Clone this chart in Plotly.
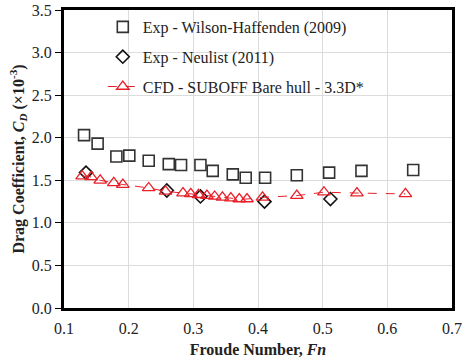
import plotly.graph_objects as go

# Exp - Wilson-Haffenden (2009)
wh_fn = [0.131, 0.152, 0.181, 0.201, 0.231, 0.262, 0.281, 0.311, 0.330, 0.361, 0.381, 0.411, 0.460, 0.510, 0.560, 0.640]
wh_cd = [2.03, 1.93, 1.78, 1.79, 1.73, 1.69, 1.68, 1.68, 1.61, 1.57, 1.53, 1.53, 1.56, 1.59, 1.61, 1.62]

# Exp - Neulist (2011)
ne_fn = [0.134, 0.259, 0.311, 0.410, 0.512]
ne_cd = [1.59, 1.38, 1.31, 1.25, 1.28]

# CFD - SUBOFF Bare hull - 3.3D*
cfd_fn = [0.128, 0.142, 0.156, 0.177, 0.191, 0.231, 0.257, 0.284, 0.296, 0.308, 0.321, 0.333, 0.345, 0.358, 0.371, 0.383, 0.407, 0.460, 0.502, 0.553, 0.628]
cfd_cd = [1.55, 1.54, 1.50, 1.47, 1.45, 1.41, 1.37, 1.35, 1.34, 1.33, 1.32, 1.31, 1.30, 1.29, 1.28, 1.28, 1.30, 1.32, 1.36, 1.35, 1.34]

x_ticks = [0.1, 0.2, 0.3, 0.4, 0.5, 0.6, 0.7]
y_ticks = [0.0, 0.5, 1.0, 1.5, 2.0, 2.5, 3.0, 3.5]

FONT = "Liberation Serif, Times New Roman, serif"
TXT = "#222222"

fig = go.Figure()
fig.add_trace(go.Scatter(
    x=wh_fn, y=wh_cd, mode="markers", name="Exp - Wilson-Haffenden (2009)", legendgroup="a",
    marker=dict(symbol="square-open", size=11, color="#333333", line=dict(width=1.6)),
))
fig.add_trace(go.Scatter(
    x=ne_fn, y=ne_cd, mode="markers", name="Exp - Neulist (2011)", legendgroup="b",
    marker=dict(symbol="diamond-open", size=10, color="#111111", line=dict(width=1.6)),
))
fig.add_trace(go.Scatter(
    x=cfd_fn, y=cfd_cd, mode="lines+markers", name="CFD - SUBOFF Bare hull - 3.3D*", legendgroup="c",
    line=dict(color="#e8202a", width=1, dash="dash"),
    marker=dict(symbol="triangle-up-open", size=11, color="#e8202a", line=dict(width=1.3)),
))

fig.add_shape(type="rect", xref="paper", yref="paper", x0=0.01, x1=0.845, y0=0.715, y1=1.0,
              fillcolor="white", line=dict(width=0), layer="between")

fig.update_layout(
    width=474, height=361,
    margin=dict(l=64, r=22, t=10, b=53, autoexpand=False),
    paper_bgcolor="white", plot_bgcolor="white",
    font=dict(family=FONT, size=16, color=TXT),
    showlegend=True,
    legend=dict(x=0.1, y=1.0, xanchor="left", yanchor="top", bgcolor="rgba(0,0,0,0)",
                font=dict(family=FONT, size=16, color=TXT), tracegroupgap=6),
    xaxis=dict(
        range=[0.1, 0.7], tickvals=x_ticks, ticktext=[f"{v:.1f}" for v in x_ticks],
        showgrid=True, gridcolor="#dcdcdc", gridwidth=1, zeroline=False,
        showline=True, linecolor="black", linewidth=3, mirror=True, automargin=False,
        ticks="", ticklabelstandoff=4, tickfont=dict(family=FONT, size=16, color=TXT),
        title=dict(text="<b>Froude Number, <i>Fn</i></b>", font=dict(family=FONT, size=16, color=TXT), standoff=8),
    ),
    yaxis=dict(
        range=[0, 3.5], tickvals=y_ticks, ticktext=[f"{v:.1f}" for v in y_ticks],
        showgrid=True, gridcolor="#dcdcdc", gridwidth=1, zeroline=False,
        showline=True, linecolor="black", linewidth=3, mirror=True, automargin=False,
        ticks="outside", ticklen=6, tickcolor="black", tickwidth=1,
        tickfont=dict(family=FONT, size=16, color=TXT),
        title=dict(text="<b>Drag Coefficient, <i>C<sub>D</sub></i> (×10<sup>-3</sup>)</b>",
                   font=dict(family=FONT, size=16, color=TXT), standoff=4),
    ),
)

fig.write_html("out.html", config={"displayModeBar": False},
               post_script="document.body.style.margin='0';document.body.style.overflow='hidden';")
